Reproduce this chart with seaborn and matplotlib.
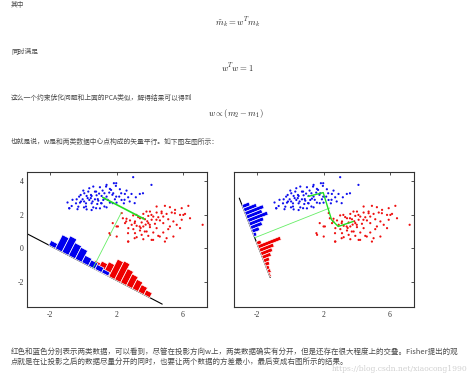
import numpy as np
import matplotlib
matplotlib.use("Agg")
import matplotlib.pyplot as plt
from matplotlib.patches import Polygon
import seaborn as sns
import pandas as pd

# ---------------- data ----------------
blue_x = [3.0, 1.84, 1.40, 1.96, 0.6, 1.0, 0.36, 1.6, 2.2, 2.6, 4.1, 0.0, 0.3, 0.7, 1.16, 1.56, 1.8, 2.5,
          2.9, 3.4, -0.16, 0.2, 0.5, 0.8, 1.1, 1.4, 2.16, 2.7, 3.16, -0.4, -0.04, 0.36, 0.7, 0.9, 1.2, 1.9,
          2.3, -0.44, -0.2, 0.16, 0.5, 0.84, 1.1, 1.6, 2.0, 2.44, -0.7, -0.3, 0.04, 0.6, 1.0, 1.4, -0.84,
          0.2, 0.5, 0.45, 1.3, 0.05, 0.95, 1.75,
          1.98, -0.95, -0.65, -0.25, -0.14, 0.06, 0.26, 0.46, 0.56, 0.77, 0.87, 1.07, 1.27, 1.37, 1.47,
          1.67, 1.77, 1.98, 2.28, 2.48, 2.79, 3.09, 3.59, -0.85, -0.35, 0.16, 0.77, 1.27]
blue_y = [4.23, 3.87, 3.77, 3.71, 3.67, 3.63, 3.57, 3.53, 3.51, 3.43, 3.77, 3.43, 3.37, 3.37, 3.43, 3.31,
          3.27, 3.23, 3.23, 3.23, 3.17, 3.11, 3.11, 3.15, 3.11, 3.07, 3.07, 3.03, 3.03, 2.91, 2.91, 2.87,
          2.91, 2.83, 2.87, 2.91, 2.87, 2.67, 2.71, 2.67, 2.67, 2.63, 2.67, 2.71, 2.71, 2.67, 2.51, 2.47,
          2.43, 2.43, 2.37, 2.43, 2.37, 2.31, 2.27, 2.98, 2.95, 2.78, 3.25, 3.18,
          3.87, 2.72, 2.88, 3.07, 2.78, 3.27, 2.98, 3.17, 2.78, 3.37, 2.92, 2.68, 3.27, 3.67, 2.88,
          3.47, 2.68, 3.07, 3.27, 2.88, 2.78, 2.68, 3.27, 2.38, 2.32, 2.48, 2.38, 2.48]
red_x = [1.77, 4.41, 4.91, 5.21, 5.52, 5.92, 6.32, 4.01, 4.41, 4.71, 5.01, 5.32, 5.82, 6.12, 3.61, 3.91,
         4.21, 4.51, 4.81, 3.41, 3.71, 4.11, 4.61, 5.11, 5.42, 5.92, 6.42, 2.81, 3.11, 3.51, 3.91, 4.31,
         4.81, 5.62, 2.51, 2.91, 3.21, 3.61, 4.01, 4.41, 5.11, 5.82, 2.71, 3.01, 3.41, 3.81, 4.21, 4.81,
         3.11, 3.51, 3.91, 4.51, 3.21, 3.61, 4.11, 5.01, 5.42, 2.71, 4.91, 7.18, 2.01, 1.61, 2.0, 2.31,
         3.3, 3.75, 3.0, 3.45, 2.6, 3.85,
         3.80, 4.71, 5.51, 6.02, 3.19, 4.10, 2.38, 3.59, 4.40, 2.58, 3.09, 4.00, 2.08, 3.39, 5.21,
         1.57, 2.69, 3.70, 4.60, 3.09, 4.20, 2.69]
red_y = [1.49, 2.48, 2.52, 2.44, 2.28, 2.38, 2.52, 2.18, 2.12, 2.08, 2.04, 2.12, 1.98, 2.04, 2.04, 1.92,
         1.88, 1.84, 1.88, 1.78, 1.72, 1.69, 1.65, 1.72, 1.59, 1.69, 1.78, 1.65, 1.59, 1.53, 1.49, 1.45,
         1.49, 1.39, 1.49, 1.39, 1.33, 1.29, 1.25, 1.19, 1.13, 1.19, 1.19, 1.13, 1.05, 0.99, 0.93, 0.93,
         0.89, 0.79, 0.73, 0.73, 0.65, 0.53, 0.49, 0.59, 0.69, 0.39, 0.39, 1.39, 0.69, 0.79, 1.29, 2.09,
         1.85, 1.4, 1.95, 1.2, 1.75, 1.6,
         2.18, 2.18, 2.08, 1.98, 1.98, 1.98, 1.78, 1.78, 1.69, 1.59, 1.49, 1.39, 1.29, 1.29, 1.29,
         0.89, 0.89, 0.99, 0.69, 0.59, 0.49, 0.39]

mean_blue = [1.17, 3.02]
mean_red = [3.67, 1.73]

# left panel: projection onto (m2 - m1)
left_foot = [0.58, -1.19]
left_line_t = [-4.41, 4.69]
left_blue_start, left_blue_width = -2.99, 0.447
left_blue_counts = [4, 12, 14, 11, 10, 6, 5, 4, 3]
left_red_start, left_red_width = -0.11, 0.396
left_red_counts = [6, 8, 10, 15, 16, 12, 10, 8, 6, 4]
left_thin_len = 3.72

# right panel: Fisher projection
right_line_start = [-3.07, 2.98]
right_line_end = [-1.21, -1.75]
right_foot_t = 2.54
right_blue_start, right_blue_width = -2.11, 0.226
right_blue_counts = [5, 9, 13, 11, 14, 10, 8, 5, 2]
right_red_start, right_red_width = 0.25, 0.225
right_red_counts = [3, 16, 10, 8, 6, 4, 3, 2, 2, 1]
right_thin_len = 4.85
right_green_x = [1.07, 1.98, 2.48, 2.88, 3.79]
right_green_y = [3.08, 3.31, 1.69, 1.29, 1.59]

xticks = [-2, 2, 6]
yticks = [-2, 0, 2, 4]
xlim = (-3.37, 7.46)
ylim = (-3.53, 4.52)

# ---------------- style ----------------
sns.set_style("white")
plt.rcParams['font.family'] = ['Noto Sans CJK SC', 'DejaVu Sans']
plt.rcParams['mathtext.fontset'] = 'cm'
plt.rcParams['axes.unicode_minus'] = False

W, H = 474, 379
fig = plt.figure(figsize=(W / 100, H / 100), dpi=100)
fig.patch.set_facecolor('white')

def fx(px):
    return px / W

def fy(py):
    return 1 - py / H

TXT = '#4a4a4a'
cjk_top = 4.9
cjk = 5.4
fig.text(fx(11), fy(5), "其中", fontsize=cjk_top, color=TXT, va='center')
fig.text(fx(238), fy(23), r"$\tilde{m}_k = w^T m_k$", fontsize=6.3, color='#222222', ha='center', va='center')
fig.text(fx(11), fy(52), "同时满足", fontsize=cjk_top, color=TXT, va='center')
fig.text(fx(237), fy(68), r"$w^T w = 1$", fontsize=6.3, color='#222222', ha='center', va='center')
fig.text(fx(11), fy(98), "这么一个约束优化问题和上面的PCA类似，解得结果可以得到", fontsize=cjk_top, color=TXT, va='center')
fig.text(fx(236), fy(114), r"$w \propto (m_2 - m_1)$", fontsize=6.2, color='#222222', ha='center', va='center')
fig.text(fx(11), fy(142), "也就是说，w是和两类数据中心点构成的矢量平行。如下图左图所示：", fontsize=cjk_top, color=TXT, va='center')
fig.text(fx(11), fy(351.5), "红色和蓝色分别表示两类数据，可以看到，尽管在投影方向w上，两类数据确实有分开，但是还存在很大程度上的交叠。Fisher提出的观",
         fontsize=cjk, color=TXT, va='center')
fig.text(fx(11), fy(361.5), "点就是在让投影之后的数据尽量分开的同时，也要让两个数据的方差最小，最后变成右图所示的结果。",
         fontsize=cjk, color=TXT, va='center')
fig.text(fx(468), fy(369), "https://blog.csdn.net/xiaocong1990", fontsize=5.5, color='#d0d0d0',
         ha='right', va='center', family='DejaVu Serif')

ax_l = fig.add_axes([fx(27.3), fy(307.3), (207.3 - 27.3) / W, (307.3 - 172.3) / H])
ax_r = fig.add_axes([fx(234.3), fy(307.3), (414.3 - 234.3) / W, (307.3 - 172.3) / H])

pts = pd.DataFrame({
    'x': blue_x + red_x,
    'y': blue_y + red_y,
    'cls': ['b'] * len(blue_x) + ['r'] * len(red_x),
})
pal = {'b': '#1010ee', 'r': '#ee1010'}


def draw_hist(ax, origin, w, n, start, width, counts, scale, color, z):
    origin = np.asarray(origin, float)
    for i, c in enumerate(counts):
        t0 = start + i * width
        t1 = t0 + width
        h = c * scale
        p0 = origin + t0 * w
        p1 = origin + t1 * w
        poly = [p0, p1, p1 + h * n, p0 + h * n]
        ax.add_patch(Polygon(poly, closed=True, facecolor=color, edgecolor='white', lw=0.5, zorder=z))


for ax in (ax_l, ax_r):
    sns.scatterplot(data=pts, x='x', y='y', hue='cls', palette=pal, s=2.5, linewidth=0,
                    legend=False, ax=ax, zorder=3)
    ax.set_xlim(*xlim)
    ax.set_ylim(*ylim)
    ax.set_xticks(xticks)
    ax.set_yticks(yticks)
    ax.set_xlabel('')
    ax.set_ylabel('')
    ax.tick_params(direction='in', length=2.5, width=0.6, top=True, right=True,
                   labelsize=5.5, pad=2.5, colors='#333333')
    for lab in ax.get_xticklabels() + ax.get_yticklabels():
        lab.set_family('Liberation Serif')
    for s in ax.spines.values():
        s.set_linewidth(0.8)
        s.set_color('#333333')

ax_r.set_yticklabels([])

# ---- left panel ----
m1 = np.array(mean_blue)
m2 = np.array(mean_red)
wl = (m2 - m1) / np.linalg.norm(m2 - m1)
nl = np.array([-wl[1], wl[0]])
if nl[1] < 0:
    nl = -nl
F = np.array(left_foot)
seg = np.array([F + t * wl for t in left_line_t])
ax_l.plot(seg[:, 0], seg[:, 1], color='black', lw=0.8, zorder=1)
draw_hist(ax_l, F, wl, nl, left_red_start, left_red_width, left_red_counts, 0.077, '#ee0000', 2)
draw_hist(ax_l, F, wl, nl, left_blue_start, left_blue_width, left_blue_counts, 0.077, '#0000ee', 2.1)
thin = np.array([F, F + left_thin_len * nl])
ax_l.plot(thin[:, 0], thin[:, 1], color='#66ee66', lw=0.6, zorder=4)
ax_l.plot([m1[0], m2[0]], [m1[1], m2[1]], color='#22dd22', lw=1.2, zorder=4)

# ---- right panel ----
A = np.array(right_line_start)
B = np.array(right_line_end)
wr = (B - A) / np.linalg.norm(B - A)
nr = np.array([wr[1], -wr[0]])
if nr[0] < 0:
    nr = -nr
Fr = A + right_foot_t * wr
ax_r.plot([A[0], B[0]], [A[1], B[1]], color='black', lw=0.8, zorder=1)
draw_hist(ax_r, Fr, wr, nr, right_red_start, right_red_width, right_red_counts, 0.09, '#ee0000', 2)
draw_hist(ax_r, Fr, wr, nr, right_blue_start, right_blue_width, right_blue_counts, 0.09, '#0000ee', 2.1)
thin_r = np.array([Fr, Fr + right_thin_len * nr])
ax_r.plot(thin_r[:, 0], thin_r[:, 1], color='#66ee66', lw=0.6, zorder=4)
ax_r.plot(right_green_x, right_green_y, color='#22dd22', lw=1.0, zorder=4)

fig.savefig('out.png', dpi=100, facecolor='white')
